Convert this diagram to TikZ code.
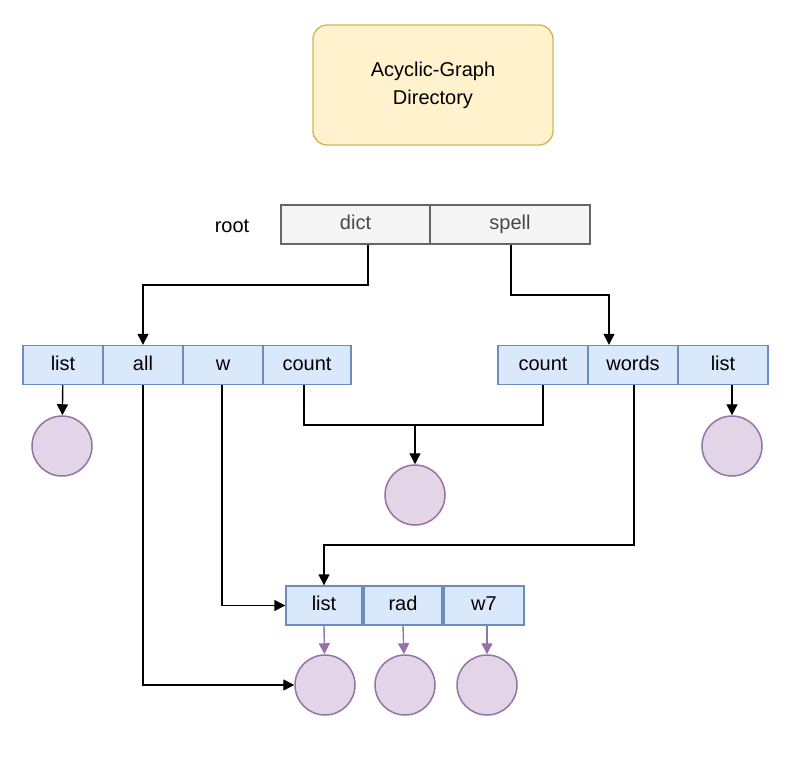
\documentclass[tikz,border=0pt]{standalone}
\usepackage{fontspec}
\setmainfont{Liberation Sans}
\usetikzlibrary{arrows.meta}
\definecolor{noteFill}{HTML}{FFF2CC}
\definecolor{noteLine}{HTML}{D6B656}
\definecolor{grayFill}{HTML}{F5F5F5}
\definecolor{grayLine}{HTML}{666666}
\definecolor{cellFill}{HTML}{DAE8FC}
\definecolor{cellLine}{HTML}{6C8EBF}
\definecolor{fileFill}{HTML}{E1D5E7}
\definecolor{fileLine}{HTML}{9673A6}
\tikzset{
  cell/.style={draw=cellLine,fill=cellFill,minimum height=39pt,inner sep=0pt,text height=14pt,text depth=4pt,font=\fontsize{20}{24}\selectfont},
  rootcell/.style={draw=grayLine,fill=grayFill,minimum height=39pt,inner sep=0pt,text height=14pt,text depth=4pt,text=grayLine!70!black,font=\fontsize{20}{24}\selectfont},
  file/.style={circle,draw=fileLine,fill=fileFill,minimum size=60pt,inner sep=0pt,line width=1.5pt},
  link/.style={-{Triangle[length=11pt,width=11pt]},line width=1.4pt},
  leaf/.style={-{Triangle[length=11pt,width=11pt]},line width=1.4pt,draw=fileLine}
}
\begin{document}
\begin{tikzpicture}[x=1pt,y=-1pt,line width=1.4pt]
  \useasboundingbox (0,0) rectangle (798,758);
  % title
  \node[draw=noteLine,fill=noteFill,rounded corners=14pt,minimum width=240pt,minimum height=120pt,align=center,font=\fontsize{20}{28}\selectfont] (title) at (433,85) {Acyclic-Graph\\Directory};
  % root directory
  \node[font=\fontsize{20}{24}\selectfont] (root) at (232,226) {root};
  \node[rootcell,minimum width=149pt] (dict) at (355.5,224.5) {dict};
  \node[rootcell,minimum width=160pt] (spell) at (510,224.5) {spell};
  % dict entries
  \node[cell,minimum width=80pt] (listL) at (63,365) {list};
  \node[cell,minimum width=80pt] (all) at (143,365) {all};
  \node[cell,minimum width=80pt] (w) at (223,365) {w};
  \node[cell,minimum width=88pt] (countL) at (307,365) {count};
  % spell entries
  \node[cell,minimum width=90pt] (countR) at (543,365) {count};
  \node[cell,minimum width=90pt] (words) at (633,365) {words};
  \node[cell,minimum width=90pt] (listR) at (723,365) {list};
  % shared entries
  \node[cell,minimum width=76pt] (listB) at (324,605.5) {list};
  \node[cell,minimum width=78pt] (rad) at (403,605.5) {rad};
  \node[cell,minimum width=80pt] (wseven) at (484,605.5) {w7};
  % files
  \node[file] (f1) at (62,446) {};
  \node[file] (f2) at (732,446) {};
  \node[file] (f3) at (415,495) {};
  \node[file] (f4) at (325,685) {};
  \node[file] (f5) at (405,685) {};
  \node[file] (f6) at (487,685) {};
  % links
  \draw[link] (dict.south -| 368,0) |- (143,285) -- (all.north);
  \draw[link] (spell.south -| 511,0) |- (609,295) -- (words.north -| 609,0);
  \draw[link] (listL) -- (f1);
  \draw[link] (listR.south -| f2) -- (f2);
  \draw (countL.south -| 304,0) |- (415,425);
  \draw[link] (countR.south) |- (415,425) -- (f3);
  \draw[link] (all.south) |- (f4.west);
  \draw[link] (w.south -| 222,0) |- (listB.west);
  \draw[link] (words.south -| 634,0) |- (324,545) -- (listB.north);
  \draw[leaf] (listB.south) -- (f4);
  \draw[leaf] (rad.south) -- (f5);
  \draw[leaf] (wseven.south -| f6) -- (f6);
\end{tikzpicture}
\end{document}
